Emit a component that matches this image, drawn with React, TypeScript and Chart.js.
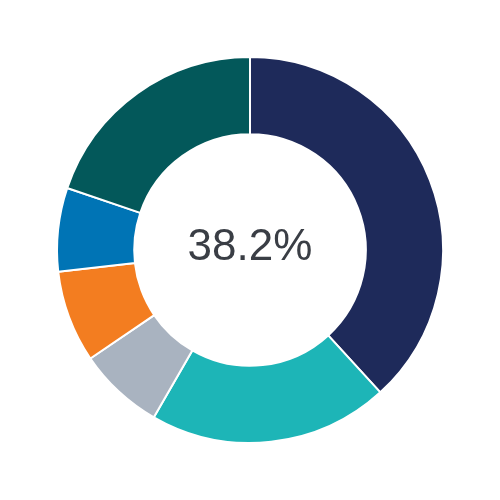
import React, { useEffect, useRef } from 'react';
import Chart from 'chart.js/auto';

const labels = ['A', 'B', 'C', 'D', 'E', 'F'];
const values = [38.2, 20.1, 7.2, 7.7, 7.0, 19.8];
const colors = ['#1e2a5a', '#1db5b7', '#a9b3c0', '#f37d20', '#0074b5', '#03585a'];
const centerLabel = '38.2%';

const centerText = {
  id: 'centerText',
  afterDraw(chart) {
    const { ctx, chartArea } = chart;
    const x = (chartArea.left + chartArea.right) / 2;
    const y = (chartArea.top + chartArea.bottom) / 2;
    ctx.save();
    ctx.font = '44px "Liberation Sans", Arial, sans-serif';
    ctx.fillStyle = '#3a3e45';
    ctx.textAlign = 'center';
    ctx.textBaseline = 'middle';
    ctx.fillText(centerLabel, x, y - 2);
    ctx.restore();
  },
};

export default function App() {
  const canvasRef = useRef(null);
  const chartRef = useRef(null);

  useEffect(() => {
    document.body.style.margin = '0';
    if (!canvasRef.current) return;
    if (chartRef.current) chartRef.current.destroy();

    chartRef.current = new Chart(canvasRef.current, {
      type: 'doughnut',
      data: {
        labels,
        datasets: [
          {
            data: values,
            backgroundColor: colors,
            borderColor: '#ffffff',
            borderWidth: 2,
          },
        ],
      },
      options: {
        animation: false,
        responsive: false,
        cutout: '60%',
        layout: { padding: 56 },
        plugins: {
          legend: { display: false },
          tooltip: { enabled: false },
        },
      },
      plugins: [centerText],
    });

    return () => {
      if (chartRef.current) {
        chartRef.current.destroy();
        chartRef.current = null;
      }
    };
  }, []);

  return (
    <div style={{ width: 500, height: 500, background: '#fff' }}>
      <canvas ref={canvasRef} width={500} height={500}></canvas>
    </div>
  );
}
